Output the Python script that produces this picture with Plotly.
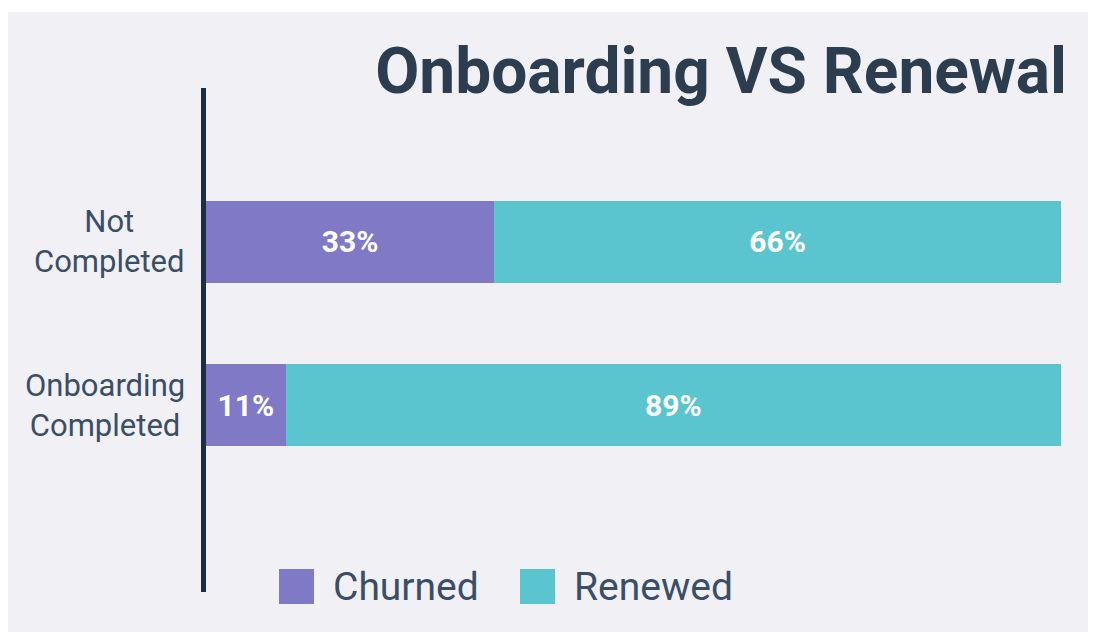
import plotly.graph_objects as go

# ---- data ----
categories = ["Onboarding Completed", "Not Completed"]
category_labels = ["Onboarding<br>Completed", "Not<br>Completed"]
series_names = ["Churned", "Renewed"]
churned_values = [9.3, 33.7]      # bar lengths
renewed_values = [90.7, 66.3]
churned_labels = ["11%", "33%"]
renewed_labels = ["89%", "66%"]
title_text = "Onboarding VS Renewal"

# ---- style ----
W, H = 1098, 636
L, R, T, B = 206, 37, 88, 44
PW, PH = W - L - R, H - T - B
FONT = "Roboto"
PURPLE = "#8079c6"
TEAL = "#5bc5cf"
PANEL = "#f1f1f5"
TITLE_C = "#2c3d50"
TEXT_C = "#3a4e66"
AXIS_C = "#1d2d44"

def px_x(p):
    return (p - L) / PW

def px_y(p):
    return (H - B - p) / PH

fig = go.Figure()
for name, vals, labels, color in [
    (series_names[0], churned_values, churned_labels, PURPLE),
    (series_names[1], renewed_values, renewed_labels, TEAL),
]:
    fig.add_trace(go.Bar(
        y=categories, x=vals, name=name, orientation="h",
        marker=dict(color=color, line=dict(width=0)),
        text=labels, textposition="inside", insidetextanchor="middle",
        textfont=dict(family=FONT, size=30, color="white", weight="bold"),
        constraintext="none", showlegend=False,
    ))

fig.update_layout(
    width=W, height=H,
    margin=dict(l=L, r=R, t=T, b=B, pad=0),
    barmode="stack", bargap=0.5,
    paper_bgcolor="white", plot_bgcolor=PANEL,
    title=dict(text=title_text, x=1067 / W, xanchor="right", xref="container",
               y=1 - 70.5 / H, yanchor="middle", yref="container",
               font=dict(family=FONT, size=64, color=TITLE_C, weight="bold")),
    xaxis=dict(range=[0, sum([churned_values[0], renewed_values[0]])], visible=False,
               showgrid=False, zeroline=False, fixedrange=True),
    yaxis=dict(type="category", categoryarray=categories, range=[-1.141, 1.94],
               showticklabels=False, showgrid=False, zeroline=False,
               showline=True, linecolor=AXIS_C, linewidth=5),
    shapes=[dict(type="rect", xref="paper", yref="paper", layer="below",
                 x0=px_x(8), x1=px_x(1088), y0=px_y(632), y1=px_y(12),
                 fillcolor=PANEL, line=dict(width=0))],
    font=dict(family=FONT),
)

# category labels (centered multi-line)
for cat, lab in zip(categories, category_labels):
    fig.add_annotation(x=px_x(187), xref="paper", y=cat, yref="y",
                       xanchor="right", yanchor="middle", align="center",
                       text=lab, showarrow=False,
                       font=dict(family=FONT, size=31, color=TEXT_C))

# legend
legend_items = [(series_names[0], PURPLE, 279), (series_names[1], TEAL, 520)]
for name, color, x0 in legend_items:
    fig.add_shape(type="rect", xref="paper", yref="paper",
                  x0=px_x(x0), x1=px_x(x0 + 35), y0=px_y(604), y1=px_y(569),
                  fillcolor=color, line=dict(width=0))
    fig.add_annotation(x=px_x(x0 + 52), xref="paper", y=px_y(586.5), yref="paper",
                       xanchor="left", yanchor="middle", text=name, showarrow=False,
                       font=dict(family=FONT, size=39, color=TEXT_C))

fig.write_html("out.html")
